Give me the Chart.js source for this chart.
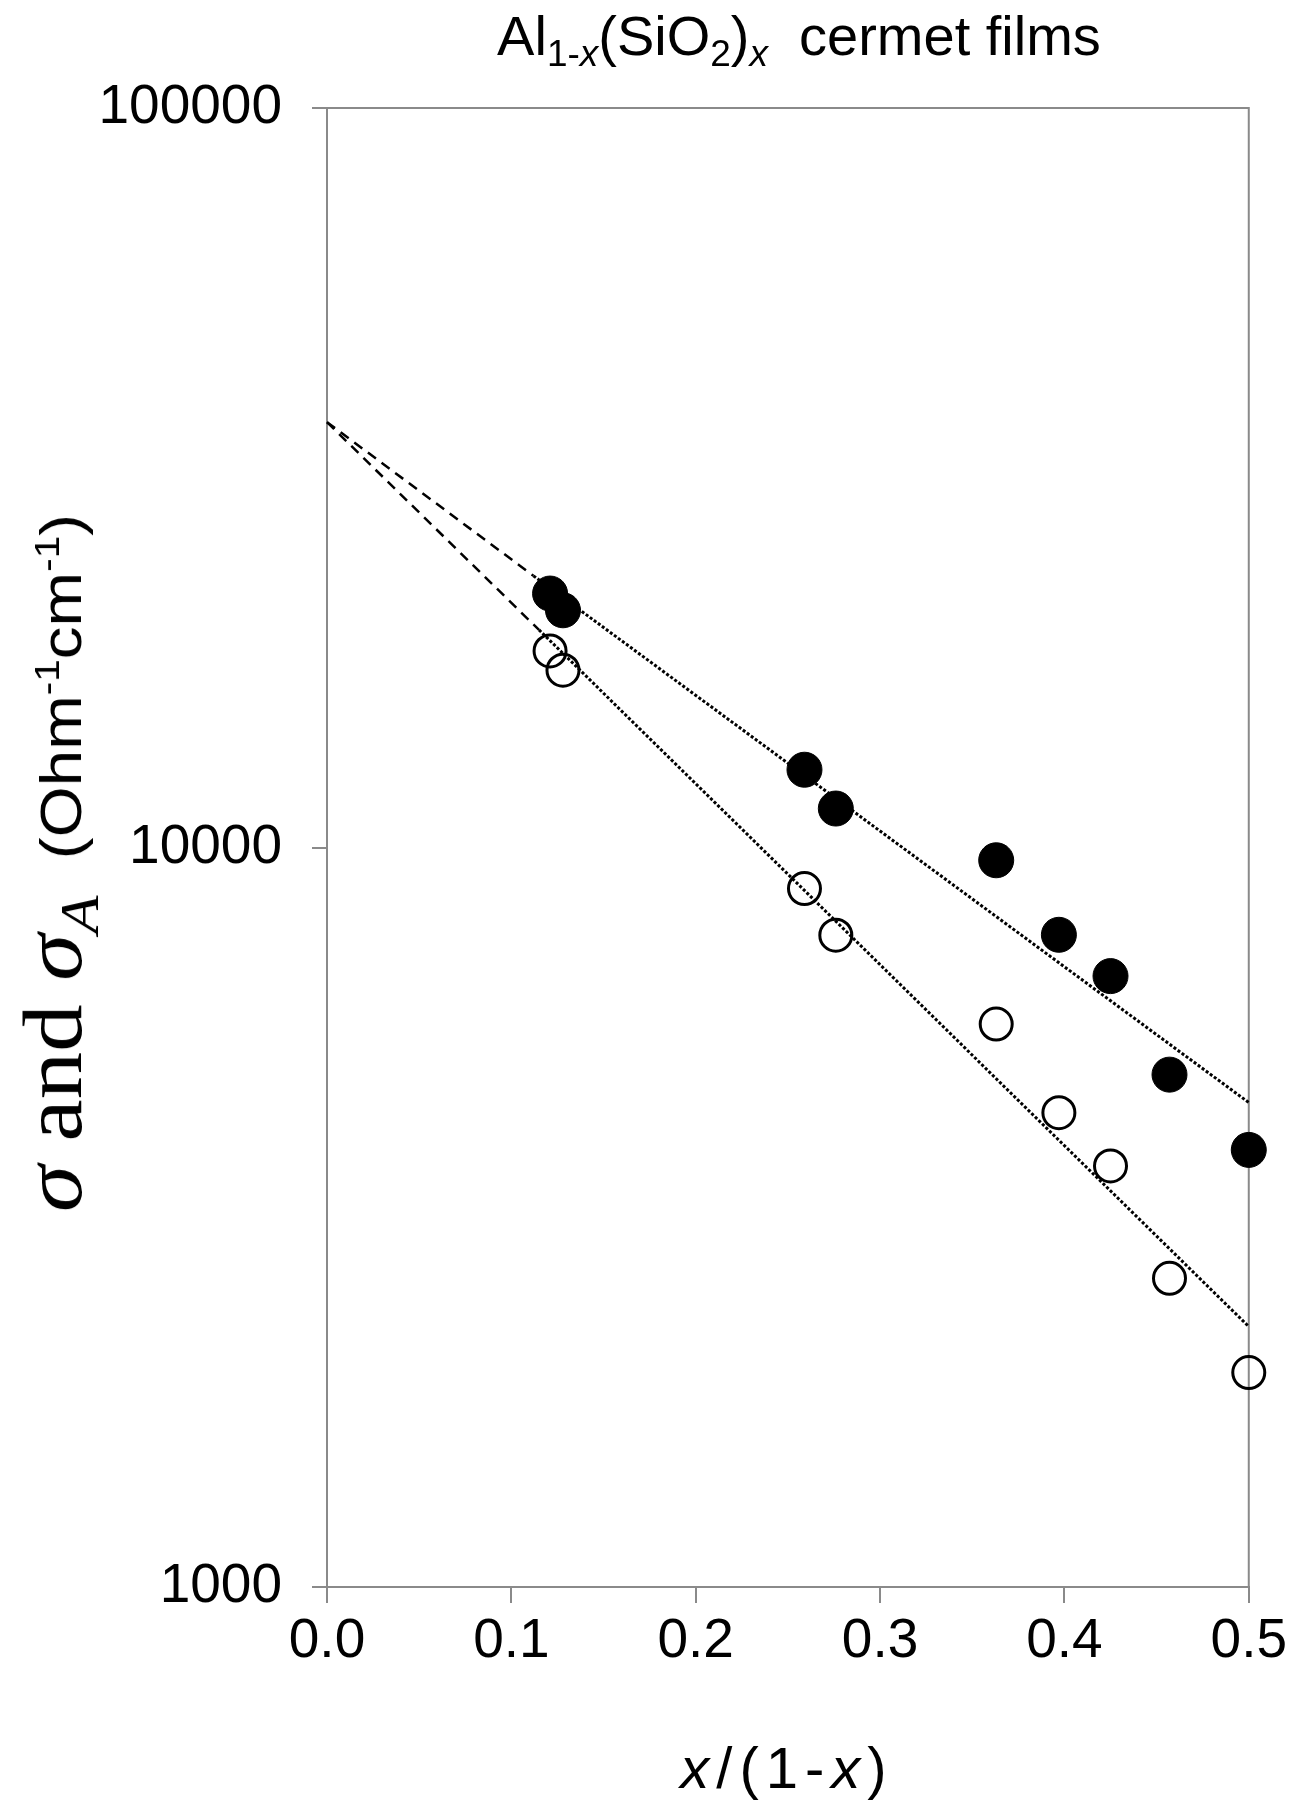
<!DOCTYPE html>
<html>
<head>
<meta charset="utf-8">
<script src="https://cdn.jsdelivr.net/npm/chart.js@4.4.0/dist/chart.umd.min.js"></script>
<style>
html,body{margin:0;padding:0;background:#fff;}
#wrap{position:relative;width:1293px;height:1813px;overflow:hidden;}
#c{position:absolute;left:0;top:0;}
.t{position:absolute;white-space:nowrap;font-family:"Liberation Sans",Arial,sans-serif;color:#000;line-height:1;}
#title{left:799px;top:36px;transform:translate(-50%,-50%);font-size:56px;}
#xtitle{left:787px;top:1768px;transform:translate(-50%,-50%);font-size:58px;letter-spacing:7px;}
#ytitle{left:53px;top:863px;transform:translate(-50%,-50%) rotate(-90deg) scaleX(1.13);font-size:58px;}
.serif{font-family:"Liberation Serif","Times New Roman",serif;font-size:84px;}
.sub{font-size:66%;position:relative;top:0.3em;}
.sup{font-size:62%;position:relative;top:-0.6em;}
i{font-style:italic;}
</style>
</head>
<body>
<div id="wrap">
<canvas id="c" width="1293" height="1813"></canvas>
<div class="t" id="title">Al<span class="sub">1-<i>x</i></span>(SiO<span class="sub">2</span>)<span class="sub"><i>x</i></span>&nbsp; cermet films</div>
<div class="t" id="xtitle"><i>x</i>/(1-<i>x</i>)</div>
<div class="t" id="ytitle"><span class="serif"><i>σ</i> and <i>σ</i><span class="sub"><i>A</i></span></span>&nbsp; (Ohm<span class="sup">-1</span>cm<span class="sup">-1</span>)</div>
</div>
<script>
// ---- data ----
const xRatio = [0.121, 0.128, 0.259, 0.276, 0.363, 0.397, 0.425, 0.457, 0.500];
const sigma  = [22050, 20930, 12740, 11290, 9610, 7620, 6700, 4930, 3900];
const sigmaA = [18440, 17370, 8800, 7610, 5770, 4380, 3710, 2615, 1950];

const fitSigmaDashX  = [0, 0.112];
const fitSigmaDashY  = [37600, 23300];
const fitSigmaDotX   = [0.112, 0.5];
const fitSigmaDotY   = [23300, 4520];
const fitSigmaADashX = [0, 0.115];
const fitSigmaADashY = [37600, 19690];
const fitSigmaADotX  = [0.115, 0.5];
const fitSigmaADotY  = [19690, 2250];

const xTicks = [0, 0.1, 0.2, 0.3, 0.4, 0.5];
const yTicks = [1000, 10000, 100000];

const pts = (xs, ys) => xs.map((x, i) => ({x: x, y: ys[i]}));
const FONT = '"Liberation Sans", Arial, sans-serif';
const AXIS = '#8a8a8a';

const frame = {
  id: 'frame',
  beforeDatasetsDraw(chart) {
    const {ctx, chartArea: a} = chart;
    ctx.save();
    ctx.strokeStyle = AXIS;
    ctx.lineWidth = 2;
    ctx.strokeRect(a.left, a.top, a.right - a.left, a.bottom - a.top);
    ctx.restore();
  }
};

new Chart(document.getElementById('c'), {
  type: 'scatter',
  data: {
    datasets: [
      { label: 'sigma', data: pts(xRatio, sigma), showLine: false, clip: false,
        pointStyle: 'circle', pointRadius: 17.5, pointBackgroundColor: '#000',
        pointBorderColor: '#000', pointBorderWidth: 1 },
      { label: 'sigmaA', data: pts(xRatio, sigmaA), showLine: false, clip: false,
        pointStyle: 'circle', pointRadius: 16, pointBackgroundColor: 'rgba(0,0,0,0)',
        pointBorderColor: '#000', pointBorderWidth: 3 },
      { label: 'fit sigma extrap', data: pts(fitSigmaDashX, fitSigmaDashY), showLine: true,
        borderColor: '#000', borderWidth: 2.5, borderDash: [10, 7], pointRadius: 0, clip: false },
      { label: 'fit sigma', data: pts(fitSigmaDotX, fitSigmaDotY), showLine: true,
        borderColor: '#000', borderWidth: 3, borderDash: [3, 2], pointRadius: 0, clip: false },
      { label: 'fit sigmaA extrap', data: pts(fitSigmaADashX, fitSigmaADashY), showLine: true,
        borderColor: '#000', borderWidth: 2.5, borderDash: [10, 7], pointRadius: 0, clip: false },
      { label: 'fit sigmaA', data: pts(fitSigmaADotX, fitSigmaADotY), showLine: true,
        borderColor: '#000', borderWidth: 3, borderDash: [3, 2], pointRadius: 0, clip: false }
    ]
  },
  options: {
    responsive: false,
    devicePixelRatio: 1,
    animation: false,
    layout: { autoPadding: false, padding: { top: 108, right: 20, left: 0, bottom: 0 } },
    plugins: { legend: { display: false }, tooltip: { enabled: false }, title: { display: false } },
    scales: {
      x: {
        type: 'linear', min: 0, max: 0.5,
        afterBuildTicks: s => { s.ticks = xTicks.map(v => ({ value: v })); },
        afterFit: s => { s.height = 226; },
        ticks: { callback: v => Number(v).toFixed(1), font: { family: FONT, size: 55 }, color: '#000',
                 padding: 6, maxRotation: 0, autoSkip: false },
        grid: { drawOnChartArea: false, drawTicks: true, tickLength: 16, color: AXIS, lineWidth: 2 },
        border: { color: AXIS, width: 2 }
      },
      y: {
        type: 'logarithmic', min: 1000, max: 100000,
        afterBuildTicks: s => { s.ticks = yTicks.map(v => ({ value: v })); },
        afterFit: s => { s.width = 327; },
        ticks: { callback: v => String(v), font: { family: FONT, size: 55 }, color: '#000',
                 padding: 30, autoSkip: false },
        grid: { drawOnChartArea: false, drawTicks: true, tickLength: 15, color: AXIS, lineWidth: 2 },
        border: { color: AXIS, width: 2 }
      }
    }
  },
  plugins: [frame]
});
</script>
</body>
</html>
